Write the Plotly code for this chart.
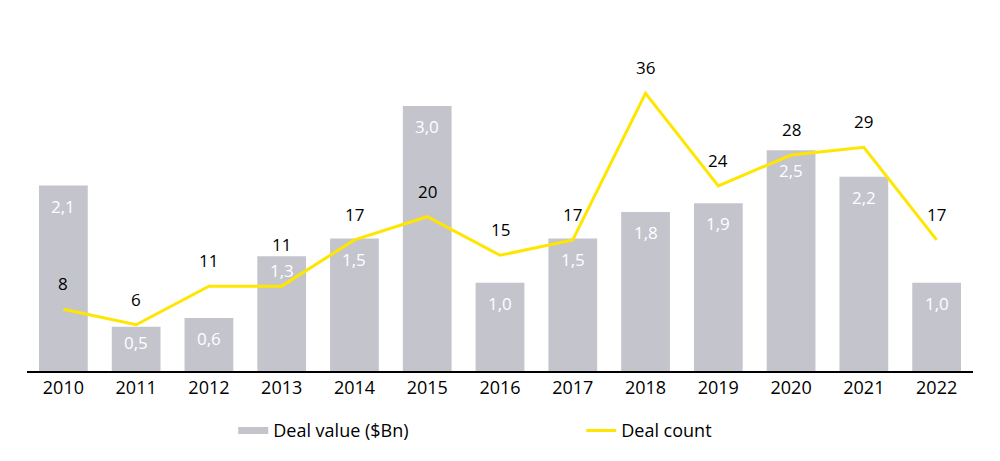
import plotly.graph_objects as go

years = ["2010", "2011", "2012", "2013", "2014", "2015", "2016",
         "2017", "2018", "2019", "2020", "2021", "2022"]
deal_value = [2.1, 0.5, 0.6, 1.3, 1.5, 3.0, 1.0, 1.5, 1.8, 1.9, 2.5, 2.2, 1.0]
deal_count = [8, 6, 11, 11, 17, 20, 15, 17, 36, 24, 28, 29, 17]

GREY = "#C4C4CD"
YELLOW = "#FFE600"
FONT = "Open Sans"

# extra label nudges (px) where the original moved labels to avoid clashes
count_label_lift = {"2013": 16}
value_label_lift = {"2011": 5, "2013": 6}

fig = go.Figure()

fig.add_trace(go.Bar(
    x=years, y=deal_value, name="Deal value ($Bn)",
    marker=dict(color=GREY, line=dict(width=0)),
    showlegend=False, yaxis="y",
))
fig.add_trace(go.Scatter(
    x=years, y=deal_count, name="Deal count", mode="lines",
    line=dict(color=YELLOW, width=3), showlegend=False, yaxis="y2",
))
# legend entries drawn as flat swatches like the original
fig.add_trace(go.Scatter(
    x=[None], y=[None], mode="lines", name="Deal value ($Bn)",
    line=dict(color=GREY, width=7),
))
fig.add_trace(go.Scatter(
    x=[None], y=[None], mode="lines", name="Deal count",
    line=dict(color=YELLOW, width=3),
))

# category axis: annotations placed by category index
annotations = []
for i, (yr, v) in enumerate(zip(years, deal_value)):
    annotations.append(dict(
        x=i, y=v, xref="x", yref="y", text=f"{v:.1f}".replace(".", ","),
        showarrow=False, yanchor="top", yshift=-7 + value_label_lift.get(yr, 0),
        font=dict(family=FONT, size=17, color="white"),
    ))
for i, (yr, c) in enumerate(zip(years, deal_count)):
    annotations.append(dict(
        x=i, y=c, xref="x", yref="y2", text=str(c),
        showarrow=False, yanchor="bottom", yshift=12 + count_label_lift.get(yr, 0),
        font=dict(family=FONT, size=17, color="black"),
    ))

# page body has an 8px margin, so the figure is sized to sit inside it
fig.update_layout(
    width=984, height=445,
    margin=dict(l=19, r=19, t=12, b=82),
    plot_bgcolor="white", paper_bgcolor="white",
    font=dict(family=FONT, size=17, color="black"),
    bargap=0.33,
    xaxis=dict(type="category", range=[-0.5, len(years) - 0.5],
               showline=True, linecolor="black", linewidth=1.5,
               ticks="", tickfont=dict(size=18), showgrid=False),
    yaxis=dict(range=[0, 3.975], visible=False, showgrid=False),
    yaxis2=dict(range=[0, 45.5], overlaying="y", visible=False, showgrid=False),
    legend=dict(orientation="h", x=0.218, xanchor="left",
                yref="container", y=0.05, yanchor="middle",
                entrywidth=303, entrywidthmode="pixels",
                font=dict(size=18)),
    annotations=annotations,
)

fig.write_html("out.html")
